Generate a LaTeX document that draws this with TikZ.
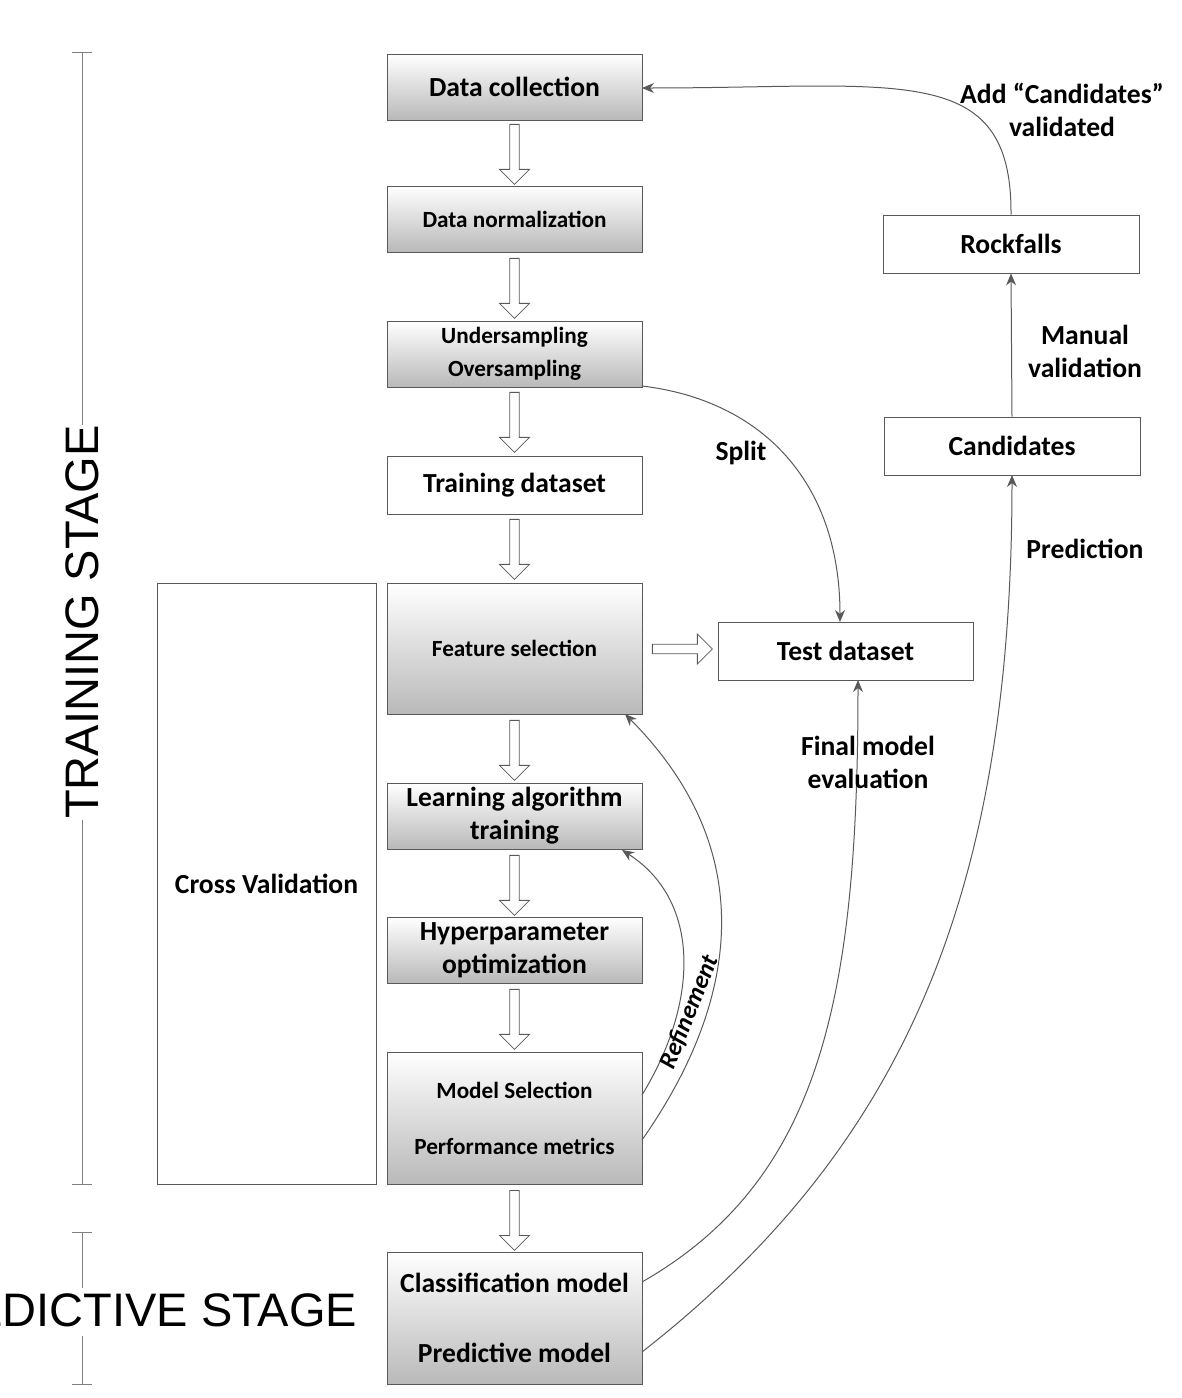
\documentclass[tikz,border=0pt]{standalone}
\usepackage{fontspec}
\setmainfont{Carlito}
\newfontfamily\arialf{Liberation Sans}
\usetikzlibrary{shapes.arrows,arrows.meta}
\begin{document}
\begin{tikzpicture}[x=0.5pt,y=-0.5pt,
 gbox/.style={draw=gray!70!black,top color=white,bottom color=gray!55,minimum width=127.5pt,inner sep=0pt,align=center,font=\bfseries\fontsize{13.8}{16.5}\selectfont},
 wbox/.style={draw=gray!70!black,fill=white,minimum width=127.5pt,minimum height=29pt,inner sep=0pt,align=center,font=\bfseries\fontsize{13.8}{16}\selectfont},
 harr/.style={single arrow,draw=gray!70!black,fill=white,minimum height=30pt,minimum width=15pt,single arrow head extend=3pt,inner sep=1.2pt},
 con/.style={draw=gray!70!black,line width=0.5pt,-{Stealth[length=6pt,width=5pt]}},
 lab/.style={font=\bfseries\fontsize{13.8}{16.5}\selectfont,align=center},
 stage/.style={font=\arialf\fontsize{23.5}{26}\selectfont}]
\useasboundingbox (0,0) rectangle (1182,1398);
% boxes
\node[gbox,minimum height=33pt] (dc) at (514.5,87) {Data collection};
\node[gbox,minimum height=33pt,font=\bfseries\fontsize{11.6}{14}\selectfont] (dn) at (514.5,219) {Data normalization};
\node[gbox,minimum height=33pt,font=\bfseries\fontsize{11.6}{16.5}\selectfont] (uo) at (514.5,354) {Undersampling\\Oversampling};
\node[wbox] (td) at (514.5,485) {Training dataset};
\node[gbox,minimum height=65.5pt,font=\bfseries\fontsize{11.6}{14}\selectfont] (fs) at (514.5,648.5) {Feature selection};
\node[gbox,minimum height=33pt] (la) at (514.5,816) {Learning algorithm\\training};
\node[gbox,minimum height=33pt] (ho) at (514.5,950) {Hyperparameter\\optimization};
\node[gbox,minimum height=66pt,font=\bfseries\fontsize{11.6}{28}\selectfont] (ms) at (514.5,1118) {Model Selection\\Performance metrics};
\node[gbox,minimum height=66pt,font=\bfseries\fontsize{13.8}{35}\selectfont] (cm) at (514.5,1318) {Classification model\\Predictive model};
\node[draw=gray!70!black,minimum width=109.5pt,minimum height=300.5pt,inner sep=0pt,font=\bfseries\fontsize{13.8}{16}\selectfont] (cv) at (266.5,883.5) {Cross Validation};
\node[wbox] (te) at (845.5,651) {Test dataset};
\node[wbox,minimum width=128pt] (rf) at (1011,244) {Rockfalls};
\node[wbox,minimum width=128pt] (ca) at (1012,446) {Candidates};
% hollow arrows
\foreach \y/\n in {152/a1,286/a2,420/a3,547/a4,748/a5,883/a6,1017/a7,1218/a8}
  \node[harr,rotate=-90] (\n) at (514.5,\y) {};
\node[harr] (a9) at (680,649) {};
% connectors
\coordinate (uoR) at (642,386);
\coordinate (teT) at (840,622);
\coordinate (teB) at (858,680);
\coordinate (caB) at (1012,475);
\coordinate (dcR) at (642,88);
\coordinate (cmR1) at (642,1282);
\coordinate (cmR2) at (642,1352);
\coordinate (msR1) at (642,1095);
\coordinate (msR2) at (642,1140);
\coordinate (laR) at (622,850);
\coordinate (fsR) at (625,714);
\draw[con] (uoR) .. controls (760,400) and (840,480) .. (teT);
\draw[con] (rf.north) .. controls (1012,60) and (900,88) .. (dcR);
\draw[con] (ca.north) -- (rf.south);
\draw[con] (cmR1) .. controls (820,1180) and (858,1000) .. (teB);
\draw[con] (cmR2) .. controls (900,1150) and (1012,900) .. (caB);
\draw[con] (msR1) .. controls (700,1000) and (700,900) .. (laR);
\draw[con] (msR2) .. controls (740,1000) and (760,850) .. (fsR);
% labels
\node[lab] (l1) at (1062,110) {Add “Candidates”\\validated};
\node[lab] (l2) at (1085,351) {Manual\\validation};
\node[lab] (l3) at (1085,549) {Prediction};
\node[lab] (l4) at (741,453) {Split};
\node[lab] (l5) at (868,762) {Final model\\evaluation};
\node[lab,rotate=68,font=\bfseries\itshape\fontsize{12.5}{14}\selectfont] (l6) at (689,1012) {Refinement};
% stages
\draw[gray] (72,52) -- (92,52) (82,52) -- (82,425) (82,820) -- (82,1184) (72,1184) -- (92,1184);
\node[stage,rotate=90] (ts) at (82,622) {TRAINING STAGE};
\draw[gray] (72,1232) -- (92,1232) (82,1232) -- (82,1288) (82,1336) -- (82,1384) (72,1384) -- (92,1384);
\node[stage,anchor=east] (ps) at (364,1310) {PREDICTIVE STAGE};
\end{tikzpicture}
\end{document}
